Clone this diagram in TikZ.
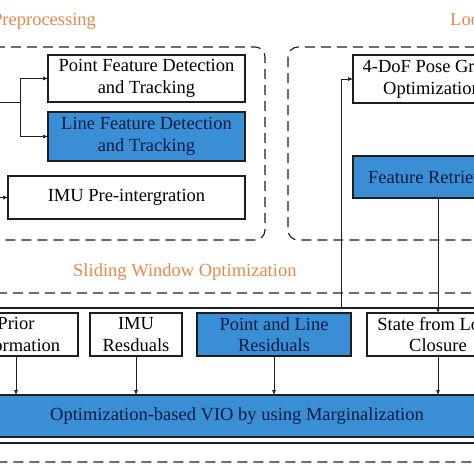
\documentclass[tikz,border=0pt]{standalone}
\usepackage{fontspec}
\setmainfont{Liberation Serif}
\usetikzlibrary{arrows.meta}
\definecolor{myblue}{RGB}{58,142,214}
\definecolor{myorange}{RGB}{229,137,77}
\definecolor{navy}{RGB}{12,28,62}
\definecolor{edge}{RGB}{30,30,30}
\tikzset{
  box/.style={draw=edge, line width=1.2pt, fill=white, align=center, inner sep=0pt, outer sep=0pt,
    font=\fontsize{18.5}{21.5}\selectfont, text=black},
  bbox/.style={box, fill=myblue, text=navy},
  dbox/.style={draw=edge, line width=1.1pt, dash pattern=on 10pt off 6pt, rounded corners=10pt},
  lab/.style={text=myorange, font=\fontsize{18.5}{21.5}\selectfont, inner sep=0pt, anchor=base west},
  arr/.style={draw=edge, line width=0.7pt, -{Latex[length=5pt,width=4pt]}},
  ln/.style={draw=edge, line width=0.7pt}
}
\begin{document}
\begin{tikzpicture}[x=1pt,y=-1pt]
\useasboundingbox (0,0) rectangle (474,474);
\clip (0,0) rectangle (474,474);
\fill[white] (0,0) rectangle (474,474);
% labels
\node[lab] (lpre) at (-8,25) {Preprocessing};
\node[lab] (lloop) at (450,25) {Loop Closure};
\node[lab] (lsw) at (73,276) {Sliding Window Optimization};
% dashed groups
\draw[dbox] (-40,47) rectangle (265,240);
\draw[dbox] (288,47) rectangle (520,240);
\draw[dbox] (-40,293) rectangle (514,462);
% solid sliding window frame
\node[draw=edge, line width=1.1pt, minimum width=534pt, minimum height=135pt, inner sep=0pt] (swin) at (237,375.5) {};
% boxes
\node[box, minimum width=197pt, minimum height=47pt] (pt) at (146.5,78.5) {Point Feature Detection\\and Tracking};
\node[bbox, minimum width=197pt, minimum height=49pt] (lnb) at (146.5,136.5) {Line Feature Detection\\and Tracking};
\node[box, minimum width=237pt, minimum height=43pt] (imu) at (126.5,197.5) {IMU Pre-intergration};
\node[box, minimum width=158pt, minimum height=48pt] (dof) at (432,79) {4-DoF Pose Graph\\Optimization};
\node[bbox, minimum width=158pt, minimum height=42pt] (fr) at (432,177) {Feature Retrieval};
\node[box, minimum width=124pt, minimum height=43pt] (prior) at (16,334.5) {Prior\\Information};
\node[box, minimum width=92pt, minimum height=43pt] (imur) at (136,334.5) {IMU\\Resduals};
\node[bbox, minimum width=154pt, minimum height=43pt] (plr) at (274,334.5) {Point and Line\\Residuals};
\node[box, minimum width=142pt, minimum height=43pt] (st) at (438,334.5) {State from Loop\\Closure};
\node[bbox, minimum width=514pt, minimum height=42pt] (vio) at (237,416) {Optimization-based VIO by using Marginalization};
% inputs
\coordinate (in1) at (-10,102);
\coordinate (jn) at (20,102);
\coordinate (in2) at (-10,197.5);
\draw[ln] (in1) -- (jn);
\draw[arr] (jn) |- (pt.west);
\draw[arr] (jn) |- (lnb.west);
\draw[arr] (in2) -- (imu.west);
% loop closure connections
\coordinate (lp) at (341,308);
\draw[arr] (lp) |- (dof.west);
\draw[arr] (fr.south -| st.north) -- (st.north);
% residuals to VIO
\draw[arr] (prior.south) -- (prior.south |- vio.north);
\draw[arr] (imur.south) -- (imur.south |- vio.north);
\draw[arr] (plr.south) -- (plr.south |- vio.north);
\draw[arr] (st.south) -- (st.south |- vio.north);
\end{tikzpicture}
\end{document}
